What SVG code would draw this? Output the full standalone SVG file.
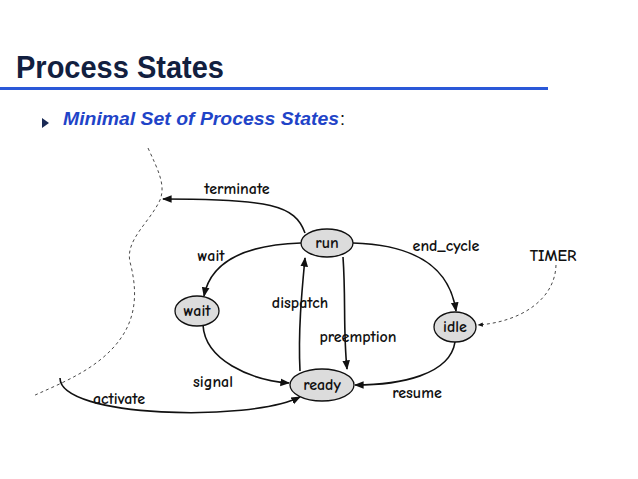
<svg xmlns="http://www.w3.org/2000/svg" width="638" height="479" viewBox="0 0 638 479">
<style>
.t{font-family:"Comic Neue","DejaVu Sans Condensed","DejaVu Sans",sans-serif;font-size:16px;font-weight:bold;fill:#111}
.n ellipse{fill:#dcdcdc;stroke:#111;stroke-width:1.3}
.c path{fill:none;stroke:#111;stroke-width:1.6}
.d{fill:none;stroke:#333;stroke-width:0.9;stroke-dasharray:3,3}
</style>
<defs>
<marker id="a" viewBox="0 0 10 10" refX="9" refY="5" markerWidth="6" markerHeight="6" orient="auto"><path d="M0,1L10,5L0,9z" fill="#111"/></marker>
</defs>
<rect width="638" height="479" fill="#fff"/>
<text x="16" y="78" font-family="Liberation Sans Narrow,Liberation Sans,Arial,sans-serif" font-weight="bold" font-size="31" fill="#12203f" textLength="208" lengthAdjust="spacingAndGlyphs">Process States</text>
<rect x="0" y="87" width="548" height="3" fill="#2a58d8"/>
<path d="M42,118L49,123L42,128z" fill="#1a2a55"/>
<text x="63" y="125" font-family="Liberation Sans Narrow,Liberation Sans,Arial,sans-serif" font-weight="bold" font-style="italic" font-size="19" fill="#1f44c8" textLength="276" lengthAdjust="spacingAndGlyphs">Minimal Set of Process States</text>
<text x="340" y="125" font-family="Liberation Sans,Arial,sans-serif" font-size="18" fill="#111">:</text>
<path class="d" d="M148,148 C158,170 166,185 160,200 C150,222 125,240 130,262 C140,300 135,332 100,360 C80,376 55,386 33,396"/>
<path class="d" d="M556,265 C555,300 520,322 478,325" marker-end="url(#a)"/>
<g class="c">
<path d="M305,233 C295,205 270,199 163,199" marker-end="url(#a)"/>
<path d="M301,243 C240,245 210,265 204,296" marker-end="url(#a)"/>
<path d="M353,243 C420,245 450,270 456,311" marker-end="url(#a)"/>
<path d="M203,325 C205,360 250,380 289,383" marker-end="url(#a)"/>
<path d="M455,342 C450,375 400,385 355,385" marker-end="url(#a)"/>
<path d="M300,371 C298,330 302,290 305,258" marker-end="url(#a)"/>
<path d="M343,257 C346,300 343,330 347,369" marker-end="url(#a)"/>
<path d="M60,378 C60,418 250,422 300,397" marker-end="url(#a)"/>
</g>
<g id="run" class="n"><ellipse cx="327" cy="243" rx="26" ry="14"/><text class="t" x="327" y="248" text-anchor="middle">run</text></g>
<g id="wait" class="n"><ellipse cx="197" cy="311" rx="22" ry="15"/><text class="t" x="197" y="316" text-anchor="middle">wait</text></g>
<g id="idle" class="n"><ellipse cx="455" cy="327" rx="21" ry="15"/><text class="t" x="455" y="332" text-anchor="middle">idle</text></g>
<g id="ready" class="n"><ellipse cx="322" cy="385" rx="32" ry="16"/><text class="t" x="322" y="390" text-anchor="middle">ready</text></g>
<g id="labels">
<text class="t" x="237" y="194" text-anchor="middle">terminate</text>
<text class="t" x="211" y="261" text-anchor="middle">wait</text>
<text class="t" x="446" y="251" text-anchor="middle">end_cycle</text>
<text class="t" x="553" y="261" text-anchor="middle">TIMER</text>
<text class="t" x="300" y="308" text-anchor="middle">dispatch</text>
<text class="t" x="358" y="342" text-anchor="middle">preemption</text>
<text class="t" x="213" y="387" text-anchor="middle">signal</text>
<text class="t" x="417" y="398" text-anchor="middle">resume</text>
<text class="t" x="119" y="404" text-anchor="middle">activate</text>
</g>
</svg>
